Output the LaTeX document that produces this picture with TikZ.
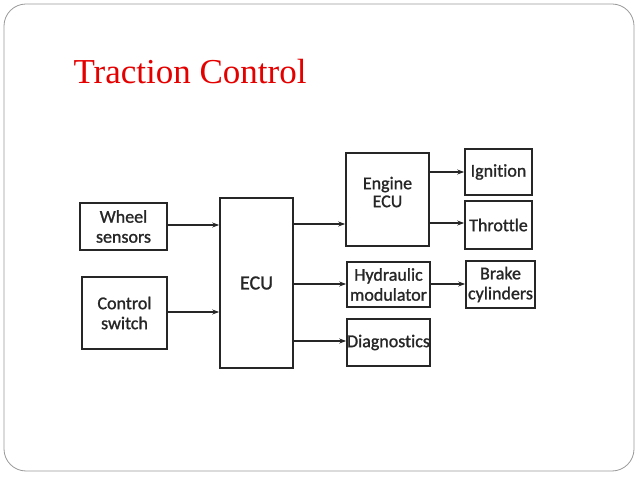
\documentclass[tikz,border=0pt]{standalone}
\usepackage{fontspec}
\setmainfont{Liberation Serif}
\newfontfamily\boxfont[Ligatures=NoCommon,FakeBold=1.2]{Carlito}
\usetikzlibrary{arrows.meta}
\begin{document}
\begin{tikzpicture}[x=1pt,y=-1pt,
  blk/.style={draw=black!85,line width=1.6pt,inner sep=0pt,align=center,font=\boxfont\fontsize{18}{20}\selectfont,text=black!85},
  conn/.style={draw=black!85,line width=1.3pt,-{Stealth[length=7pt,width=5pt]}}]
\useasboundingbox (0,0) rectangle (638,478);
\draw[gray!80,line width=0.8pt,rounded corners=22pt] (4,4) rectangle (634,471);
\node[anchor=base west,text=red!90!black,font=\fontsize{35}{35}\selectfont] (title) at (70,84) {Traction Control};
% boxes
\node[blk,minimum width=87pt,minimum height=47pt] (ws) at (123.5,226.5) {Wheel\\sensors};
\node[blk,minimum width=85pt,minimum height=72pt] (cs) at (124.5,313) {Control\\switch};
\node[blk,minimum width=73pt,minimum height=170pt,font=\boxfont\fontsize{20}{20}\selectfont] (ecu) at (256.5,283) {ECU};
\node[blk,minimum width=83pt,minimum height=93pt] (eecu) at (387.5,199.5) {\raisebox{1pt}[0pt][0pt]{\begin{tabular}{@{}c@{}}Engine\\[-2pt]ECU\end{tabular}}};
\node[blk,minimum width=67pt,minimum height=46pt] (ign) at (498.5,172) {Ignition};
\node[blk,minimum width=67pt,minimum height=48pt] (thr) at (498.5,225) {Throttle};
\node[blk,minimum width=83pt,minimum height=45pt] (hyd) at (388.5,284.5) {Hydraulic\\modulator};
\node[blk,minimum width=69pt,minimum height=47pt] (brk) at (500.5,284.5) {Brake\\cylinders};
\node[blk,minimum width=83pt,minimum height=47pt] (diag) at (388.5,342.5) {Diagnostics};
% connectors
\draw[conn] (ws.east|-0,225) -- (ecu.west|-0,225);
\draw[conn] (cs.east|-0,312) -- (ecu.west|-0,312);
\draw[conn] (ecu.east|-0,224) -- (eecu.west|-0,224);
\draw[conn] (ecu.east|-0,284) -- (hyd.west|-0,284);
\draw[conn] (ecu.east|-0,341) -- (diag.west|-0,341);
\draw[conn] (eecu.east|-0,172) -- (ign.west|-0,172);
\draw[conn] (eecu.east|-0,223) -- (thr.west|-0,223);
\draw[conn] (hyd.east|-0,284) -- (brk.west|-0,284);
\end{tikzpicture}
\end{document}
